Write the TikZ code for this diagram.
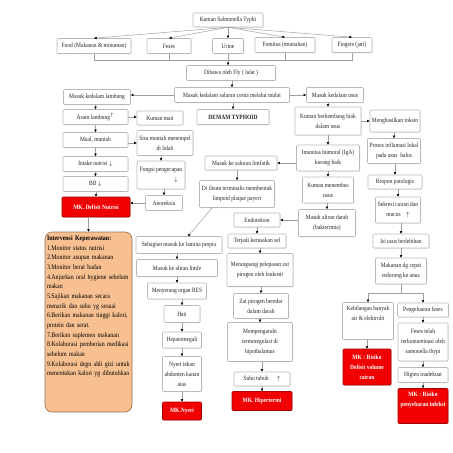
\documentclass[tikz,border=0pt]{standalone}
\usepackage{fontspec}
\setmainfont[FakeStretch=0.85]{Liberation Serif}
\usetikzlibrary{arrows.meta,shadows}
\definecolor{peach}{RGB}{248,192,144}
\definecolor{peachline}{RGB}{150,112,84}
\definecolor{mkred}{RGB}{240,0,0}
\tikzset{
  box/.style={draw=gray!55,fill=white,rounded corners=1bp,line width=0.6bp,
    inner sep=1.5bp,minimum height=14bp,align=center,text=black!85,
    font=\fontsize{6.5}{10}\selectfont,
    drop shadow={shadow xshift=0.6bp,shadow yshift=-0.6bp,opacity=0.25}},
  mk/.style={box,draw=red!65!black,fill=mkred,text=white,
    font=\fontsize{6.5}{10}\selectfont\bfseries},
  plan/.style={draw=peachline,fill=peach,rounded corners=7bp,line width=0.6bp,
    text width=83bp,align=left,inner sep=2bp,minimum height=180bp,
    font=\fontsize{7}{9.7}\selectfont},
  lnk/.style={draw=gray!75,line width=0.5bp},
  arw/.style={lnk,-{Triangle[length=2.6bp,width=2.4bp,color=black]}},
}
\begin{document}
\begin{tikzpicture}
\useasboundingbox (0bp,0bp) rectangle (453bp,-453bp);

% sumber penularan
\node (kuman) at (228bp,-20bp)[box,minimum width=70bp] {Kuman Salmonella Typhi};
\node (food) at (94bp,-46bp)[box,minimum width=74bp,minimum height=15bp] {Food (Makanan \& minuman)};
\node (feses) at (169bp,-46bp)[box,minimum width=44bp,minimum height=15bp] {Feses};
\node (urine) at (228bp,-46bp)[box,minimum width=31bp,minimum height=15bp] {Urine};
\node (fomitus) at (285bp,-45bp)[box,minimum width=60bp,minimum height=15bp] {Fomitus (muntahan)};
\node (fingers) at (352bp,-45bp)[box,minimum width=40bp,minimum height=15bp] {Fingers (jari)};
\node (dibawa) at (231bp,-73bp)[box,minimum width=89bp,minimum height=15bp] {Dibawa oleh Fly ( lalat )};
\node (mulut) at (232bp,-95bp)[box,minimum width=115bp,minimum height=15bp] {Masuk kedalam saluran cerna melalui mulut};
\node (lambung) at (97bp,-97bp)[box,minimum width=67bp,minimum height=15bp] {Masuk kedalam lambung};
\node (usus) at (335bp,-95bp)[box,minimum width=57bp,minimum height=15bp] {Masuk kedalam usus};
\node (demam) at (233bp,-117bp)[box,minimum width=72bp,minimum height=15bp,font=\fontsize{6.5}{10}\selectfont\bfseries] {DEMAM TYPHOID};

% lambung
\node (asam) at (95.5bp,-117bp)[box,minimum width=65bp,minimum height=15bp] {Asam lambung\textsuperscript{$\uparrow$}};
\node (mati) at (160bp,-118bp)[box,minimum width=46bp,minimum height=14bp] {Kuman mati};
\node (mual) at (95.5bp,-140bp)[box,minimum width=65bp,minimum height=15bp] {Mual, muntah};
\node (sisa) at (165bp,-143bp)[box,minimum width=56bp,minimum height=25bp] {Sisa muntah menempel\\di lidah};
\node (intake) at (95.5bp,-164bp)[box,minimum width=65bp,minimum height=15bp] {Intake nutrisi $\downarrow$};
\node (fungsi) at (161bp,-175bp)[box,minimum width=48bp,minimum height=28bp] {Fungsi pengecapan\\\hspace*{30bp}$\downarrow$};
\node (bb) at (95.5bp,-184bp)[box,minimum width=65bp,minimum height=15bp] {BB $\downarrow$};
\node (anoreksia) at (164bp,-203bp)[box,minimum width=37bp,minimum height=15bp] {Anoreksia};
\node (defnutrisi) at (96bp,-207bp)[mk,minimum width=68bp,minimum height=20bp] {MK. Defisit Nutrisi};
\node (intervensi) at (88.5bp,-322bp)[plan] {\textbf{Intervensi Keperawatan:}\\
1.Monitor status nutrisi\\
2.Monitor asupan makanan\\
3.Monitor berat badan\\
4.Anjurkan oral hygiene sebelum\\makan\\
5.Sajikan makanan secara\\menarik dan suhu yg sesuai\\
6.Berikan makanan tinggi kalori,\\protein dan serat.\\
7.Berikan suplemen makanan\\
8.Kolaborasi pemberian medikasi\\sebelum makan\\
9.Kolaborasi degn ahli gizi untuk\\menentukan kalori yg dibutuhkan\\[23bp]\mbox{}};

% usus
\node (kb) at (328bp,-121bp)[box,minimum width=66bp,minimum height=28bp] {Kuman berkembang biak\\dalam usus};
\node (toksin) at (395bp,-121bp)[box,minimum width=50bp,minimum height=22bp] {Menghasilkan toksin};
\node (imunitas) at (328bp,-158bp)[box,minimum width=63bp,minimum height=26bp] {Imunitas humoral (IgA)\\kurang baik};
\node (menembus) at (328bp,-190bp)[box,minimum width=51bp,minimum height=26bp] {Kuman menembus\\usus};
\node (darah) at (327bp,-223bp)[box,minimum width=57bp,minimum height=27bp] {Masuk aliran darah\\(bakterimia)};
\node (proses) at (394bp,-151bp)[box,minimum width=53bp,minimum height=25bp] {Proses inflamasi lokal\\pada usus\ \ halus};
\node (respon) at (395bp,-182bp)[box,minimum width=54bp,minimum height=14bp] {Respon patologis};
\node (sekresi) at (398bp,-210bp)[box,minimum width=45bp,minimum height=26bp] {Sekresi cairan dan\\mucus\hspace{5bp}$\uparrow$};
\node (isi) at (401bp,-241bp)[box,minimum width=56bp,minimum height=14bp] {Isi usus berlebihan};
\node (makanan) at (401bp,-271bp)[box,minimum width=51bp,minimum height=26bp] {Makanan dg cepat\\tedorong ke anus};
\node (kehilangan) at (368bp,-321bp)[box,minimum width=51bp,minimum height=37bp] {Kehilangan banyak\\air \& elektrolit\\[6bp]\mbox{}};
\node (mkvolume) at (367bp,-367bp)[mk,minimum width=48bp,minimum height=36bp] {MK : Risiko\\Defisit volume\\cairan};
\node (pengeluaran) at (423bp,-310bp)[box,minimum width=51bp,minimum height=14bp] {Pengeluaran feses};
\node (terkontam) at (423bp,-342bp)[box,minimum width=50bp,minimum height=38bp] {Feses telah\\terkontaminasi oleh\\samonella thypi};
\node (higien) at (423bp,-375bp)[box,minimum width=50bp,minimum height=15bp] {Higien inadekuat};
\node (mkinfeksi) at (423bp,-406bp)[mk,minimum width=50bp,minimum height=35bp] {MK : Risiko\\penyebaran infeksi\\[4bp]\mbox{}};

% limfatik dan darah
\node (limfatik) at (241bp,-163bp)[box,minimum width=72bp,minimum height=14bp] {Masuk ke saluran limfatik};
\node (ileum) at (237bp,-194bp)[box,minimum width=75bp,minimum height=27bp] {Di ileum terminalis membentuk\\limpoid plaque payeri};
\node (endotoksin) at (257bp,-220bp)[box,minimum width=46bp,minimum height=14bp] {Endotoksin};
\node (kerusakan) at (257bp,-241bp)[box,minimum width=58bp,minimum height=14bp] {Terjadi kerusakan sel};
\node (merangsang) at (260bp,-270bp)[box,minimum width=66bp,minimum height=33bp] {Merangsang pelepasan zat\\pirogen oleh leukosit};
\node (zat) at (261bp,-306bp)[box,minimum width=55bp,minimum height=25bp] {Zat pirogen beredar\\dalam darah};
\node (mempengaruhi) at (260bp,-342bp)[box,minimum width=65bp,minimum height=39bp] {Mempengaruhi\\termoregulasi di\\hipothalamus};
\node (suhu) at (262bp,-379bp)[box,minimum width=56bp,minimum height=14bp] {Suhu tubuh\hspace{8bp}$\uparrow$};
\node (mkhiper) at (262bp,-401bp)[mk,minimum width=60bp,minimum height=19bp] {MK. Hipertermi};

\node (sebagian) at (179bp,-245bp)[box,minimum width=86bp,minimum height=17bp] {Sebagian masuk ke lamina propia};
\node (limfe) at (177bp,-268bp)[box,minimum width=81bp,minimum height=17bp] {Masuk ke aliran limfe};
\node (res) at (177bp,-291bp)[box,minimum width=59bp,minimum height=16bp] {Menyerang organ RES};
\node (hati) at (182bp,-314bp)[box,minimum width=36bp,minimum height=17bp] {Hati};
\node (hepato) at (182bp,-340bp)[box,minimum width=39bp,minimum height=16bp] {Hepatomegali};
\node (nyeri) at (182bp,-374bp)[box,minimum width=39bp,minimum height=35bp] {Nyeri tekan\\abdomen kanan\\atas};
\node (mknyeri) at (182bp,-411bp)[mk,minimum width=39bp,minimum height=18bp] {MK.Nyeri};

% penghubung
\coordinate (bar) at (0bp,-60bp);
\coordinate (split) at (0bp,-293bp);
\draw [arw] (kuman.south) to (food.north);
\draw [arw] (kuman.south) to (feses.north);
\draw [arw] (kuman.south) to (urine.north);
\draw [arw] (kuman.south) to (fomitus.north);
\draw [arw] (kuman.south) to (fingers.north);
\draw [lnk] (food.south) -- (food.south |- bar) -| (fingers.south);
\draw [lnk] (feses.south) -- (feses.south |- bar);
\draw [lnk] (fomitus.south) -- (fomitus.south |- bar);
\draw [arw] (urine.south) -- (urine.south |- dibawa.north);
\draw [arw] (dibawa.south -| mulut) -- (mulut.north);
\draw [arw] (mulut.west) -- (mulut.west -| lambung.east);
\draw [arw] (mulut.east) -- (usus.west);
\draw [arw] (mulut.south -| demam) -- (demam.north);

\draw [arw] (lambung.south -| asam) -- (asam.north);
\draw [arw] (asam.east) -- (asam.east -| mati.west);
\draw [arw] (asam.south) -- (mual.north);
\draw [arw] (mual.east |- sisa) -- (sisa.west);
\draw [arw] (mual.south) -- (intake.north);
\draw [arw] (intake.south) -- (bb.north);
\draw [arw] (bb.south -| defnutrisi) -- (defnutrisi.north);
\draw [arw] (sisa.south -| fungsi) -- (fungsi.north);
\draw [arw] (fungsi.south -| anoreksia) -- (anoreksia.north);
\draw [arw] (anoreksia.west) -- (anoreksia.west -| defnutrisi.east);
\draw [arw] (defnutrisi.south -| intervensi) -- (intervensi.north);

\draw [arw] (usus.south -| kb) -- (kb.north);
\draw [arw] (kb.east |- toksin) -- (toksin.west);
\draw [arw] (kb.south) -- (imunitas.north);
\draw [arw] (imunitas.south) -- (menembus.north);
\draw [arw] (menembus.south -| darah) -- (darah.north);
\draw [arw] (toksin.south -| proses) -- (proses.north);
\draw [arw] (proses.south -| respon) -- (respon.north);
\draw [arw] (respon.south -| sekresi) -- (sekresi.north);
\draw [arw] (sekresi.south -| isi) -- (isi.north);
\draw [arw] (isi.south) -- (makanan.north);
\draw [lnk] (makanan.south) -- (makanan.south |- split);
\draw [arw] (makanan.south |- split) -| (kehilangan.north);
\draw [arw] (makanan.south |- split) -| (pengeluaran.north);
\draw [arw] (kehilangan.south -| mkvolume) -- (mkvolume.north);
\draw [arw] (pengeluaran.south) -- (terkontam.north);
\draw [arw] (terkontam.south) -- (higien.north);
\draw [arw] (higien.south) -- (mkinfeksi.north);

\draw [arw] (imunitas.west |- limfatik) -- (limfatik.east);
\draw [arw] (limfatik.south -| ileum) -- (ileum.north);
\draw [arw] ([xshift=13bp]ileum.south west) -- ([xshift=9bp]sebagian.north);
\draw [arw] (darah.west |- endotoksin) -- (endotoksin.east);
\draw [arw] (endotoksin.south) -- (kerusakan.north);
\draw [arw] (kerusakan.south -| merangsang) -- (merangsang.north);
\draw [arw] (merangsang.south -| zat) -- (zat.north);
\draw [arw] (zat.south -| mempengaruhi) -- (mempengaruhi.north);
\draw [arw] (mempengaruhi.south -| suhu) -- (suhu.north);
\draw [arw] (suhu.south) -- (mkhiper.north);

\draw [arw] (sebagian.south -| limfe) -- (limfe.north);
\draw [arw] (limfe.south) -- (res.north);
\draw [arw] (res.south -| hati) -- (hati.north);
\draw [arw] (hati.south) -- (hepato.north);
\draw [arw] (hepato.south) -- (nyeri.north);
\draw [arw] (nyeri.south) -- (mknyeri.north);
\end{tikzpicture}
\end{document}
